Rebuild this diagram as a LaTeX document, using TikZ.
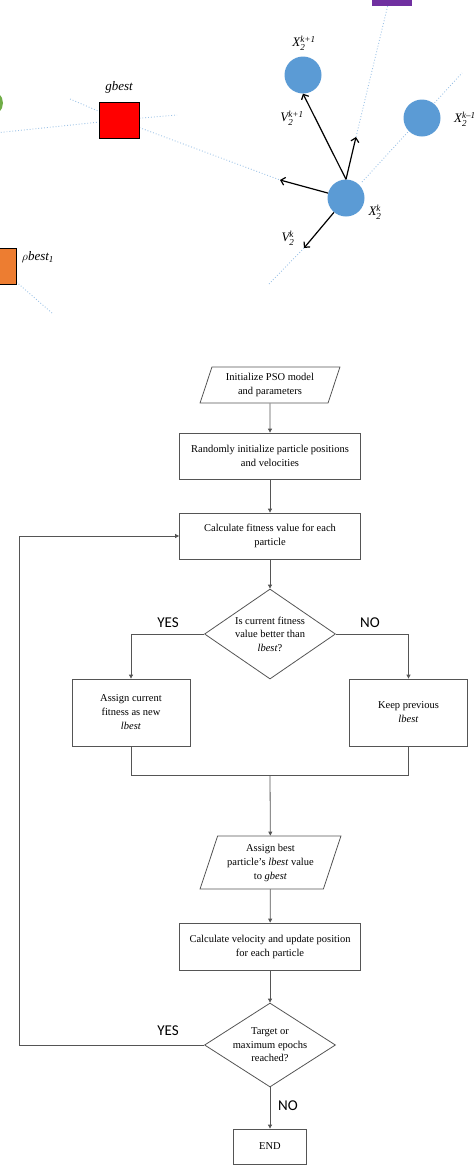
\documentclass[tikz,border=0pt]{standalone}
\usepackage{amsmath}
\usepackage{fontspec}
\setmainfont{Liberation Serif}
\newfontfamily\answerfont{Carlito}
\usetikzlibrary{shapes.geometric,arrows.meta}
\pgfdeclarelayer{bg}
\pgfsetlayers{bg,main}
\definecolor{psoblue}{HTML}{5B9BD5}
\definecolor{psotrack}{HTML}{9DC3E6}
\definecolor{psogreen}{HTML}{70AD47}
\definecolor{psoorange}{HTML}{ED7D31}
\definecolor{psopurple}{HTML}{7030A0}
\definecolor{flowgray}{HTML}{555555}
\newcommand{\psovar}[3]{\textit{#1}$_{\text{2}}^{\text{\itshape #2}\text{#3}}$}
\tikzset{
    particle/.style={circle, fill=psoblue, minimum size=37pt, inner sep=0pt},
    bestbox/.style={rectangle, draw=black, line width=0.8pt, inner sep=0pt},
    track/.style={psotrack, dotted, line width=0.9pt},
    velo/.style={-{Straight Barb[length=4pt,width=8pt]}, line width=1.2pt},
    lbl/.style={font=\fontsize{13}{13}\selectfont\itshape, inner sep=1pt}
}
\tikzset{
    procbox/.style={rectangle, draw=flowgray, line width=0.8pt, minimum width=181pt,
        minimum height=46pt, align=center, inner sep=0pt,
        font=\fontsize{10.5}{14}\selectfont},
    sidebox/.style={procbox, minimum width=118pt, minimum height=67pt},
    iobox/.style={procbox, trapezium, trapezium left angle=69, trapezium right angle=111,
        trapezium stretches=true},
    testbox/.style={procbox, diamond, minimum width=131pt, aspect=1.5,
        font=\fontsize{10.5}{13.5}\selectfont},
    flow/.style={draw=flowgray, line width=0.8pt, -{Triangle[length=4pt,width=4pt]}},
    link/.style={draw=flowgray, line width=0.8pt},
    answer/.style={font=\answerfont\fontsize{15}{15}\selectfont, inner sep=0pt}
}

\begin{document}
\begin{tikzpicture}[x=1pt, y=-1pt]
  \useasboundingbox (0,0) rectangle (474,1165);

  \node[circle, fill=psogreen, minimum size=26pt, inner sep=0pt] (pg) at (-10,103) {};
  \node[bestbox, fill=red, minimum width=40pt, minimum height=36pt] (gbest) at (119,120) {};
  \node[bestbox, fill=psoorange, minimum width=36pt, minimum height=36pt] (pbest) at (-2,266) {};
  \node[rectangle, fill=psopurple, minimum width=40pt, minimum height=36pt] (pp) at (392,-12) {};

  \node[particle] (xk) at (346,198) {};
  \node[particle] (xkp) at (303,75) {};
  \node[particle] (xkm) at (422,118) {};

  \node[lbl] (gbl) at (119,87) {gbest};
  \node[lbl] (pbl) at (38,257) {$\rho$best$_{\text{1}}$};
  \node[lbl] (xkpl) at (304,43) {\psovar{X}{k}{+1}};
  \node[lbl] (vkpl) at (292,118) {\psovar{V}{k}{+1}};
  \node[lbl] (xkml) at (465,119) {\psovar{X}{k}{--1}};
  \node[lbl] (xkl) at (375,212) {\psovar{X}{k}{}};
  \node[lbl] (vkl) at (288,238) {\psovar{V}{k}{}};

  \coordinate (g1) at (-5,133);
  \coordinate (g2) at (70,99);
  \coordinate (g3) at (177,115);
  \coordinate (vg) at (280,180);
  \coordinate (vp) at (356,137);
  \coordinate (v0) at (304,248);
  \coordinate (t1) at (362,182);
  \coordinate (t2) at (462,73);
  \coordinate (t3) at (268,285);
  \coordinate (t4) at (52,313);

  \begin{pgfonlayer}{bg}
    \draw[track] (g1) -- (gbest); \draw[track] (g2) -- (gbest);
    \draw[track] (gbest) -- (g3); \draw[track] (gbest) -- (vg);
    \draw[track] (pp) -- (vp);
    \draw[track] (t1) -- (t2);
    \draw[track] (v0) -- (t3);
    \draw[track] (pbest) -- (t4);
  \end{pgfonlayer}

  \draw[velo] (xk) -- (vg);
  \draw[velo] (xk.north) -- (xkp.south);
  \draw[velo] (xk.north) -- (vp);
  \draw[velo] (xk) -- (v0);

  \node[iobox, minimum width=140pt, minimum height=36pt] (init) at (270,385)
    {Initialize PSO model\\and parameters};
  \node[procbox] (rand) at (270,456)
    {Randomly initialize particle positions\\and velocities};
  \node[procbox] (calc) at (270,536)
    {Calculate fitness value for each\\particle};
  \node[testbox, minimum height=90pt] (cmp) at (270,634)
    {Is current fitness\\value better than\\\textit{lbest}?};
  \node[sidebox] (newbest) at (131,712.5)
    {Assign current\\fitness as new\\\textit{lbest}};
  \node[sidebox] (keep) at (408.5,712.5)
    {Keep previous\\\textit{lbest}};
  \coordinate (mrg) at (270,775);
  \node[iobox, minimum width=141pt, minimum height=53pt] (share) at (270.5,862.5)
    {Assign best\\particle's \textit{lbest} value\\to \textit{gbest}};
  \node[procbox, minimum height=47pt] (move) at (270,946.5)
    {Calculate velocity and update position\\for each particle};
  \node[testbox, minimum height=84pt] (stop) at (270,1045)
    {Target or\\maximum epochs\\reached?};
  \node[procbox, minimum width=73pt, minimum height=35pt] (end) at (270,1146.5) {END};
  \coordinate (back) at (19,536);

  \node[answer] (yes1) at (168,623) {YES};
  \node[answer] (no1) at (370,623) {NO};
  \node[answer] (yes2) at (168,1031) {YES};
  \node[answer] (no2) at (288,1106) {NO};

  \draw[flow] (init) -- (rand);
  \draw[flow] (rand) -- (calc);
  \draw[flow] (calc) -- (cmp);
  \draw[flow] (cmp.west) -| (newbest);
  \draw[flow] (cmp.east) -| (keep);
  \draw[link] (newbest) |- (mrg) -| (keep);
  \draw[flow] (mrg) -- (share);
  \draw[flow] (share) -- (move);
  \draw[flow] (move) -- (stop);
  \draw[flow] (stop.west) -| (back) -- (calc);
  \draw[flow] (stop) -- (end);
\end{tikzpicture}
\end{document}
